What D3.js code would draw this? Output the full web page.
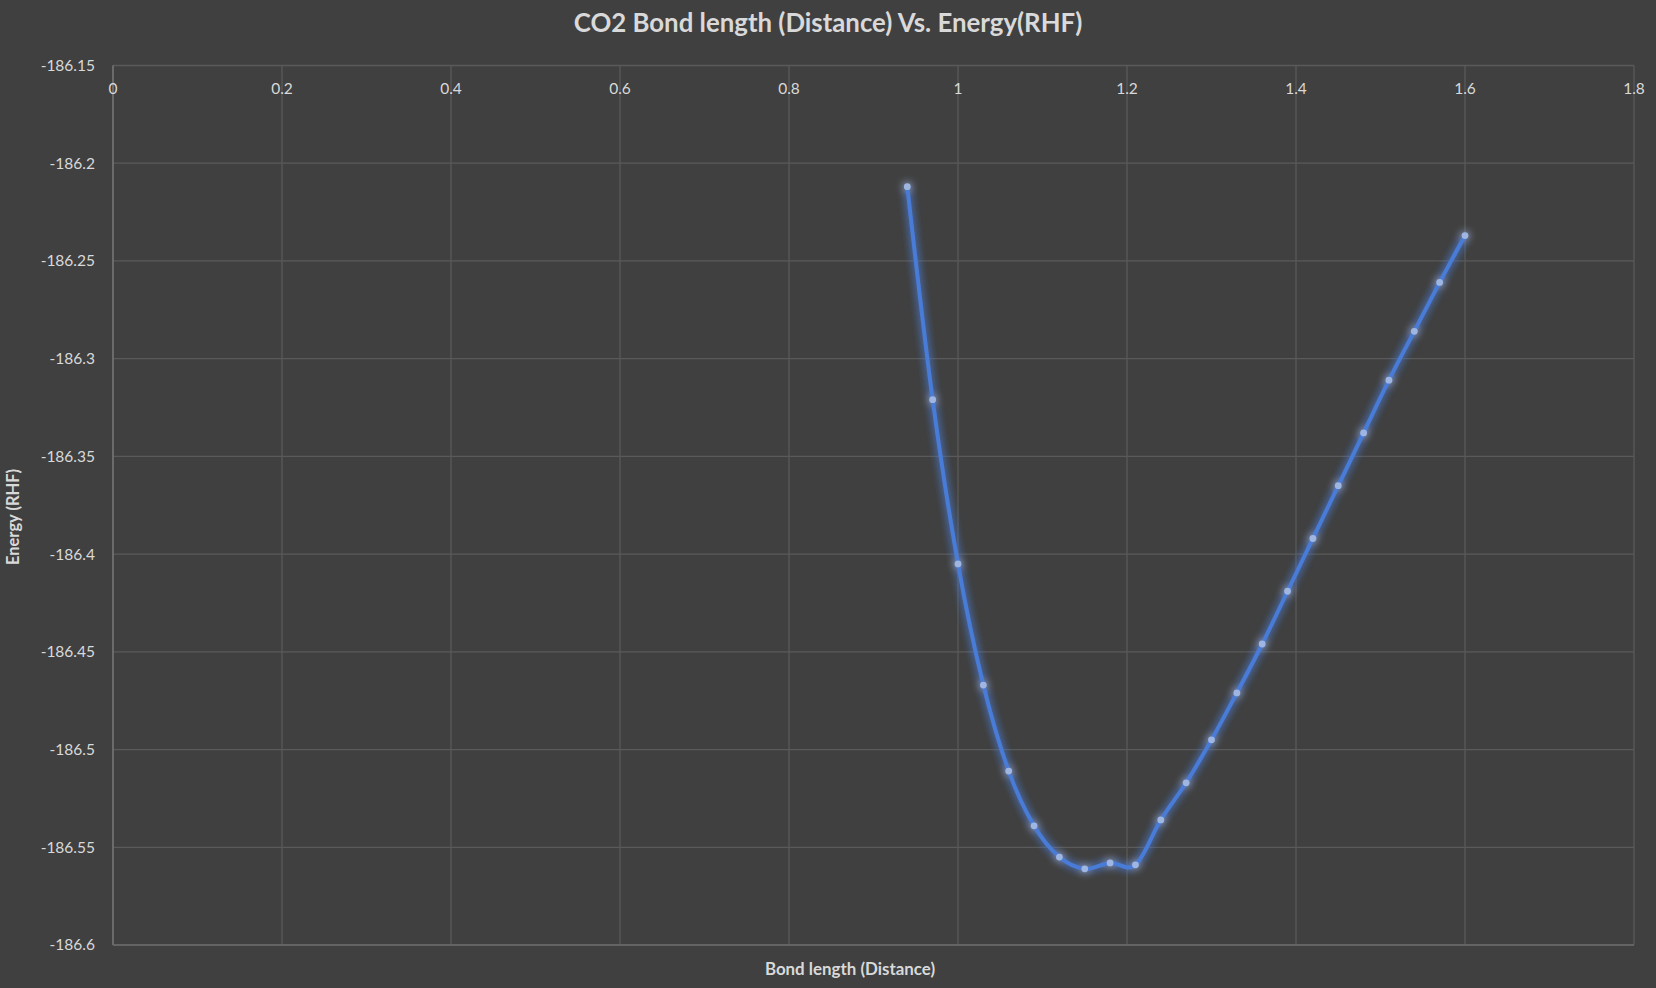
<!DOCTYPE html>
<html>
<head>
<meta charset="utf-8">
<script src="https://cdn.jsdelivr.net/npm/d3@7"></script>
<style>
    html, body { margin: 0; padding: 0; background: #404040; }
    svg text { font-family: Lato, "Open Sans", sans-serif; fill: #d9d9d9; }
</style>
</head>
<body>
<div id="chart"></div>
<script>
// Bond length (distance) vs RHF energy
const bondLength = [0.94, 0.97, 1.00, 1.03, 1.06, 1.09, 1.12, 1.15, 1.18, 1.21, 1.24, 1.27,
    1.30, 1.33, 1.36, 1.39, 1.42, 1.45, 1.48, 1.51, 1.54, 1.57, 1.60];
const energy = [-186.212, -186.321, -186.405, -186.467, -186.511, -186.539, -186.555, -186.561,
    -186.558, -186.559, -186.536, -186.517, -186.495, -186.471, -186.446, -186.419, -186.392,
    -186.365, -186.338, -186.311, -186.286, -186.261, -186.237];
const xTicks = [0, 0.2, 0.4, 0.6, 0.8, 1, 1.2, 1.4, 1.6, 1.8];
const yTicks = [-186.15, -186.2, -186.25, -186.3, -186.35, -186.4, -186.45, -186.5, -186.55, -186.6];

const WIDTH = 1656, HEIGHT = 988;
const margin = { top: 65.5, right: 22, bottom: 43, left: 113 };

const svg = d3.select("#chart").append("svg")
    .attr("width", WIDTH)
    .attr("height", HEIGHT);

svg.append("rect").attr("width", WIDTH).attr("height", HEIGHT).attr("fill", "#404040");

const defs = svg.append("defs");
const glow = defs.append("filter").attr("id", "glow")
    .attr("x", "-20%").attr("y", "-20%").attr("width", "140%").attr("height", "140%");
glow.append("feGaussianBlur").attr("in", "SourceGraphic").attr("stdDeviation", 4.5).attr("result", "blur");
glow.append("feComponentTransfer").attr("in", "blur").attr("result", "soft")
    .append("feFuncA").attr("type", "linear").attr("slope", 1.4);
const merge = glow.append("feMerge");
merge.append("feMergeNode").attr("in", "soft");
merge.append("feMergeNode").attr("in", "SourceGraphic");

const x = d3.scaleLinear().domain([0, 1.8]).range([margin.left, WIDTH - margin.right]);
const y = d3.scaleLinear().domain([-186.6, -186.15]).range([HEIGHT - margin.bottom, margin.top]);

// gridlines
svg.append("g").selectAll("line.h")
    .data(yTicks)
    .enter().append("line")
    .attr("x1", x(0)).attr("x2", x(1.8))
    .attr("y1", d => y(d)).attr("y2", d => y(d))
    .attr("stroke", "#5a5a5a").attr("stroke-width", 1.3);

svg.append("g").selectAll("line.v")
    .data(xTicks)
    .enter().append("line")
    .attr("x1", d => x(d)).attr("x2", d => x(d))
    .attr("y1", y(-186.15)).attr("y2", y(-186.6))
    .attr("stroke", "#5a5a5a").attr("stroke-width", 1.3);

// axis lines
svg.append("line")
    .attr("x1", x(0)).attr("x2", x(0)).attr("y1", y(-186.15)).attr("y2", y(-186.6))
    .attr("stroke", "#7a7a7a").attr("stroke-width", 1.3);
svg.append("line")
    .attr("x1", x(0)).attr("x2", x(1.8)).attr("y1", y(-186.6)).attr("y2", y(-186.6))
    .attr("stroke", "#6a6a6a").attr("stroke-width", 1.3);

// tick labels
svg.append("g").selectAll("text")
    .data(xTicks)
    .enter().append("text")
    .attr("x", d => x(d))
    .attr("y", y(-186.15) + 28)
    .attr("text-anchor", "middle")
    .attr("font-size", 15.5)
    .text(d => d3.format("~g")(d));

svg.append("g").selectAll("text")
    .data(yTicks)
    .enter().append("text")
    .attr("x", x(0) - 18)
    .attr("y", d => y(d))
    .attr("dy", "0.35em")
    .attr("text-anchor", "end")
    .attr("font-size", 15.5)
    .text(d => d);

// series
const line = d3.line()
    .x((d, i) => x(bondLength[i]))
    .y(d => y(d))
    .curve(d3.curveCatmullRom.alpha(0));

const series = svg.append("g").attr("filter", "url(#glow)");
series.append("path")
    .datum(energy)
    .attr("fill", "none")
    .attr("stroke", "#4a7bd6")
    .attr("stroke-width", 4)
    .attr("d", line);

series.selectAll("circle")
    .data(energy)
    .enter().append("circle")
    .attr("cx", (d, i) => x(bondLength[i]))
    .attr("cy", d => y(d))
    .attr("r", 3.4)
    .attr("fill", "#9fb6e3");

// titles
svg.append("text")
    .attr("x", WIDTH / 2)
    .attr("y", 32)
    .attr("text-anchor", "middle")
    .attr("font-size", 25.8)
    .attr("font-weight", "bold")
    .text("CO2 Bond length (Distance) Vs. Energy(RHF)");

svg.append("text")
    .attr("x", 850)
    .attr("y", 975)
    .attr("text-anchor", "middle")
    .attr("font-size", 16.9)
    .attr("font-weight", "bold")
    .text("Bond length (Distance)");

svg.append("text")
    .attr("transform", "translate(19,517) rotate(-90)")
    .attr("text-anchor", "middle")
    .attr("font-size", 16.5)
    .attr("font-weight", "bold")
    .text("Energy (RHF)");
</script>
</body>
</html>
